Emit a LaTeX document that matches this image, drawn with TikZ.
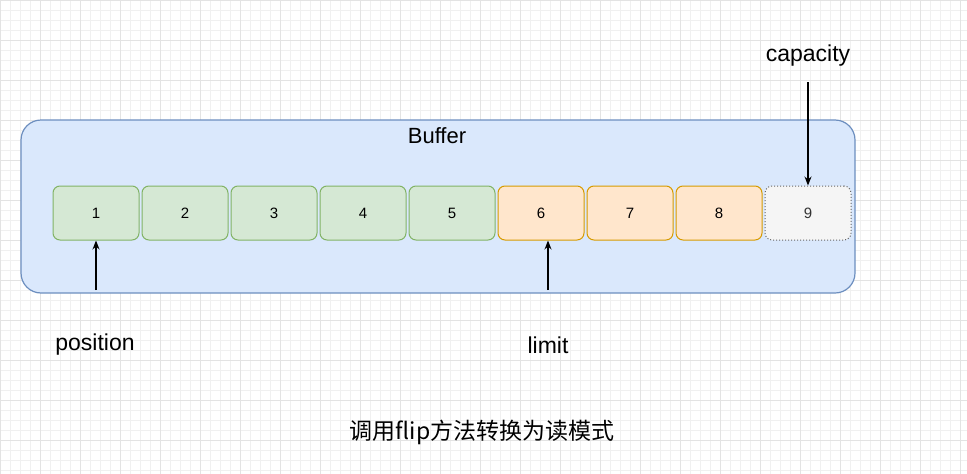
\documentclass[tikz,border=0pt]{standalone}
\usepackage{fontspec}
\usetikzlibrary{arrows.meta}
\setmainfont{Liberation Sans}
\newfontfamily\cjk{Noto Sans CJK SC}
\begin{document}
\begin{tikzpicture}[x=1pt,y=-1pt,
  cellbox/.style={draw, rounded corners=7pt, minimum width=86pt, minimum height=54pt, font=\fontsize{15}{17}\selectfont, line width=1pt},
  grn/.style={cellbox, fill={rgb,255:red,213;green,232;blue,212}, draw={rgb,255:red,130;green,179;blue,102}},
  org/.style={cellbox, fill={rgb,255:red,255;green,230;blue,204}, draw={rgb,255:red,215;green,155;blue,0}},
  gry/.style={cellbox, fill={rgb,255:red,245;green,245;blue,245}, draw={rgb,255:red,102;green,102;blue,102}, dotted, text={rgb,255:red,51;green,51;blue,51}},
  lbl/.style={font=\fontsize{23}{27}\selectfont},
  arr/.style={-{Stealth[length=9pt,width=7pt]}, line width=1.2pt}]
\useasboundingbox (0,0) rectangle (967,474);
\fill[white] (0,0) rectangle (967,474);
\draw[step=10pt, gray!12, line width=0.4pt] (0,0) grid (967,474);
\draw[step=40pt, gray!22, line width=0.5pt] (0,0) grid (967,474);
\draw[rounded corners=20pt, fill={rgb,255:red,218;green,232;blue,252}, draw={rgb,255:red,108;green,142;blue,191}, line width=1.2pt] (21,120) rectangle (855,293);
\node[font=\fontsize{22}{26}\selectfont] (buf) at (437,136) {Buffer};
\foreach \i/\s in {1/grn,2/grn,3/grn,4/grn,5/grn,6/org,7/org,8/org,9/gry}{
  \node[\s] (c\i) at ({96+89*(\i-1)},213) {\i};
}
\node[lbl] (cap) at (808,56) {capacity};
\node[lbl] (pos) at (95,345) {position};
\node[lbl] (lim) at (548,345) {limit};
\coordinate (capa) at (808,82);
\coordinate (posa) at (96,290);
\coordinate (lima) at (548,290);
\draw[arr] (capa) -- (c9.north);
\draw[arr] (posa) -- (c1.south);
\draw[arr] (lima) -- (lima |- c6.south);
\node[font=\cjk\fontsize{23}{27}\selectfont] (cap2) at (482,432) {调用flip方法转换为读模式};
\end{tikzpicture}
\end{document}
